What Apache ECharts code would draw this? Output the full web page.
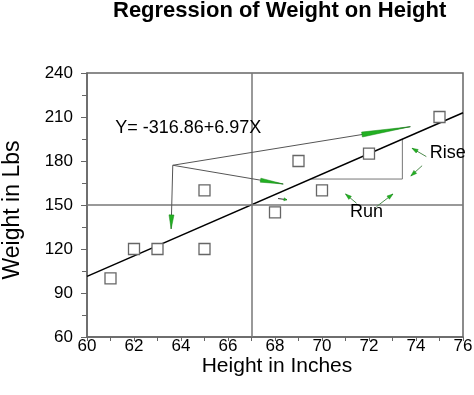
<!DOCTYPE html>
<html>
<head>
<meta charset="utf-8">
<script src="https://cdn.jsdelivr.net/npm/echarts@6/dist/echarts.min.js"></script>
<style>
  html, body { margin: 0; padding: 0; background: #fff; }
  #main { width: 474px; height: 395px; }
</style>
</head>
<body>
<div id="main"></div>
<script>
// Veriler
const heights = [61, 62, 63, 65, 65, 68, 69, 70, 72, 75];
const weights = [100, 120, 120, 120, 160, 145, 180, 160, 185, 210];
const meanHeight = 67;
const meanWeight = 150;
// Regresyon doğrusu uçları: Y = -316.86 + 6.97X
const regLine = [[60, 101.3], [76, 212.9]];
const equationText = 'Y= -316.86+6.97X';

// Eğim üçgeni (run / rise)
const slopeTriangle = [[69.55, 167.7], [73.42, 167.7], [73.42, 194.9]];

// Oklar: [x1, y1, x2, y2] veri koordinatları
const arrowLines = [
    [63.65, 177.1, 73.76, 203.4],
    [63.65, 177.1, 68.35, 164.3],
    [63.65, 177.1, 63.58, 133.7],
    [74.44, 183.0, 73.83, 188.7],
    [74.26, 176.8, 73.78, 169.8],
    [71.47, 151.2, 71.00, 157.5],
    [72.32, 148.9, 73.02, 157.5],
    [68.13, 154.4, 68.51, 153.6]
];
// ok başı boyutları [uzunluk, genişlik], çizgi rengi
const arrowHeads = [[49, 5], [23, 4], [14, 5], [6, 4], [6, 4], [6, 4], [6, 4], [3, 3]];
const arrowStroke = ['#555', '#555', '#555', '#4d8a4d', '#4d8a4d', '#4d8a4d', '#4d8a4d', '#333'];

// Metin etiketleri
const noteTexts = [equationText, 'Rise', 'Run'];
const notePos = [[61.2, 202.5], [74.58, 185.3], [71.19, 145.0]];

const points = heights.map((h, i) => [h, weights[i]]);

const chart = echarts.init(document.getElementById('main'));
const FONT = '"Liberation Sans", Arial, sans-serif';

chart.setOption({
    animation: false,
    title: {
        text: 'Regression of Weight on Height',
        left: 113,
        top: 0,
        padding: 0,
        textStyle: { fontFamily: FONT, fontSize: 22, fontWeight: 'bold', color: '#000' }
    },
    grid: {
        left: 87, right: 11, top: 73, bottom: 58,
        containLabel: false,
        outerBoundsMode: 'none',
        show: true, borderColor: '#666', borderWidth: 1.5
    },
    xAxis: {
        type: 'value', min: 60, max: 76, interval: 2,
        name: 'Height in Inches', nameLocation: 'middle', nameGap: 19,
        nameMoveOverlap: false,
        nameTextStyle: { fontFamily: FONT, fontSize: 21, color: '#000', padding: [0, 0, 0, 4] },
        axisLine: { show: true, lineStyle: { color: '#666', width: 1.5 } },
        axisTick: { show: true, length: 4, lineStyle: { color: '#666' } },
        minorTick: { show: true, splitNumber: 2, length: 4, lineStyle: { color: '#666' } },
        splitLine: { show: false },
        axisLabel: { fontFamily: FONT, fontSize: 17, color: '#000', margin: 1 }
    },
    yAxis: {
        type: 'value', min: 60, max: 240, interval: 30,
        name: 'Weight in Lbs', nameLocation: 'middle', nameGap: 63, nameRotate: 90,
        nameTextStyle: { fontFamily: FONT, fontSize: 23, color: '#000', padding: [0, 10, 0, 0] },
        axisLine: { show: true, lineStyle: { color: '#666', width: 1.5 } },
        axisTick: { show: true, length: 6, lineStyle: { color: '#666' } },
        minorTick: { show: true, splitNumber: 2, length: 5, lineStyle: { color: '#666' } },
        splitLine: { show: false },
        axisLabel: { fontFamily: FONT, fontSize: 17, color: '#000', margin: 14, padding: [0, 0, 10, 0] }
    },
    series: [
        {
            type: 'line',
            data: regLine,
            symbol: 'none',
            lineStyle: { color: '#000', width: 1.5 },
            z: 3,
            markLine: {
                silent: true,
                symbol: 'none',
                label: { show: false },
                lineStyle: { color: '#777', width: 1.5, type: 'solid' },
                data: [{ xAxis: meanHeight }, { yAxis: meanWeight }]
            }
        },
        {
            type: 'line',
            data: slopeTriangle,
            symbol: 'none',
            lineStyle: { color: '#777', width: 1 },
            z: 2
        },
        {
            type: 'scatter',
            data: points,
            symbol: 'rect',
            symbolSize: 11,
            itemStyle: { color: '#fff', borderColor: '#666', borderWidth: 1.3, opacity: 1 },
            z: 4
        },
        {
            type: 'custom',
            data: arrowLines,
            encode: { x: [0, 2], y: [1, 3] },
            clip: false,
            z: 5,
            renderItem: function (params, api) {
                const i = params.dataIndex;
                const p1 = api.coord([api.value(0), api.value(1)]);
                const p2 = api.coord([api.value(2), api.value(3)]);
                const dx = p2[0] - p1[0], dy = p2[1] - p1[1];
                const len = Math.sqrt(dx * dx + dy * dy) || 1;
                const ux = dx / len, uy = dy / len;
                const hl = arrowHeads[i][0], hw = arrowHeads[i][1] / 2;
                const bx = p2[0] - ux * hl, by = p2[1] - uy * hl;
                return {
                    type: 'group',
                    children: [
                        {
                            type: 'line',
                            shape: { x1: p1[0], y1: p1[1], x2: p2[0], y2: p2[1] },
                            style: { stroke: arrowStroke[i], lineWidth: 1 }
                        },
                        {
                            type: 'polygon',
                            shape: { points: [p2, [bx - uy * hw, by + ux * hw], [bx + uy * hw, by - ux * hw]] },
                            style: { fill: '#22b022', stroke: '#1a8a1a', lineWidth: 0.5 }
                        }
                    ]
                };
            }
        },
        {
            type: 'custom',
            data: notePos,
            encode: { x: 0, y: 1 },
            clip: false,
            z: 6,
            renderItem: function (params, api) {
                const p = api.coord([api.value(0), api.value(1)]);
                return {
                    type: 'text',
                    x: p[0], y: p[1],
                    style: {
                        text: noteTexts[params.dataIndex],
                        font: '18px ' + FONT,
                        fill: '#000',
                        verticalAlign: 'middle',
                        align: 'left'
                    }
                };
            }
        }
    ]
});
</script>
</body>
</html>
